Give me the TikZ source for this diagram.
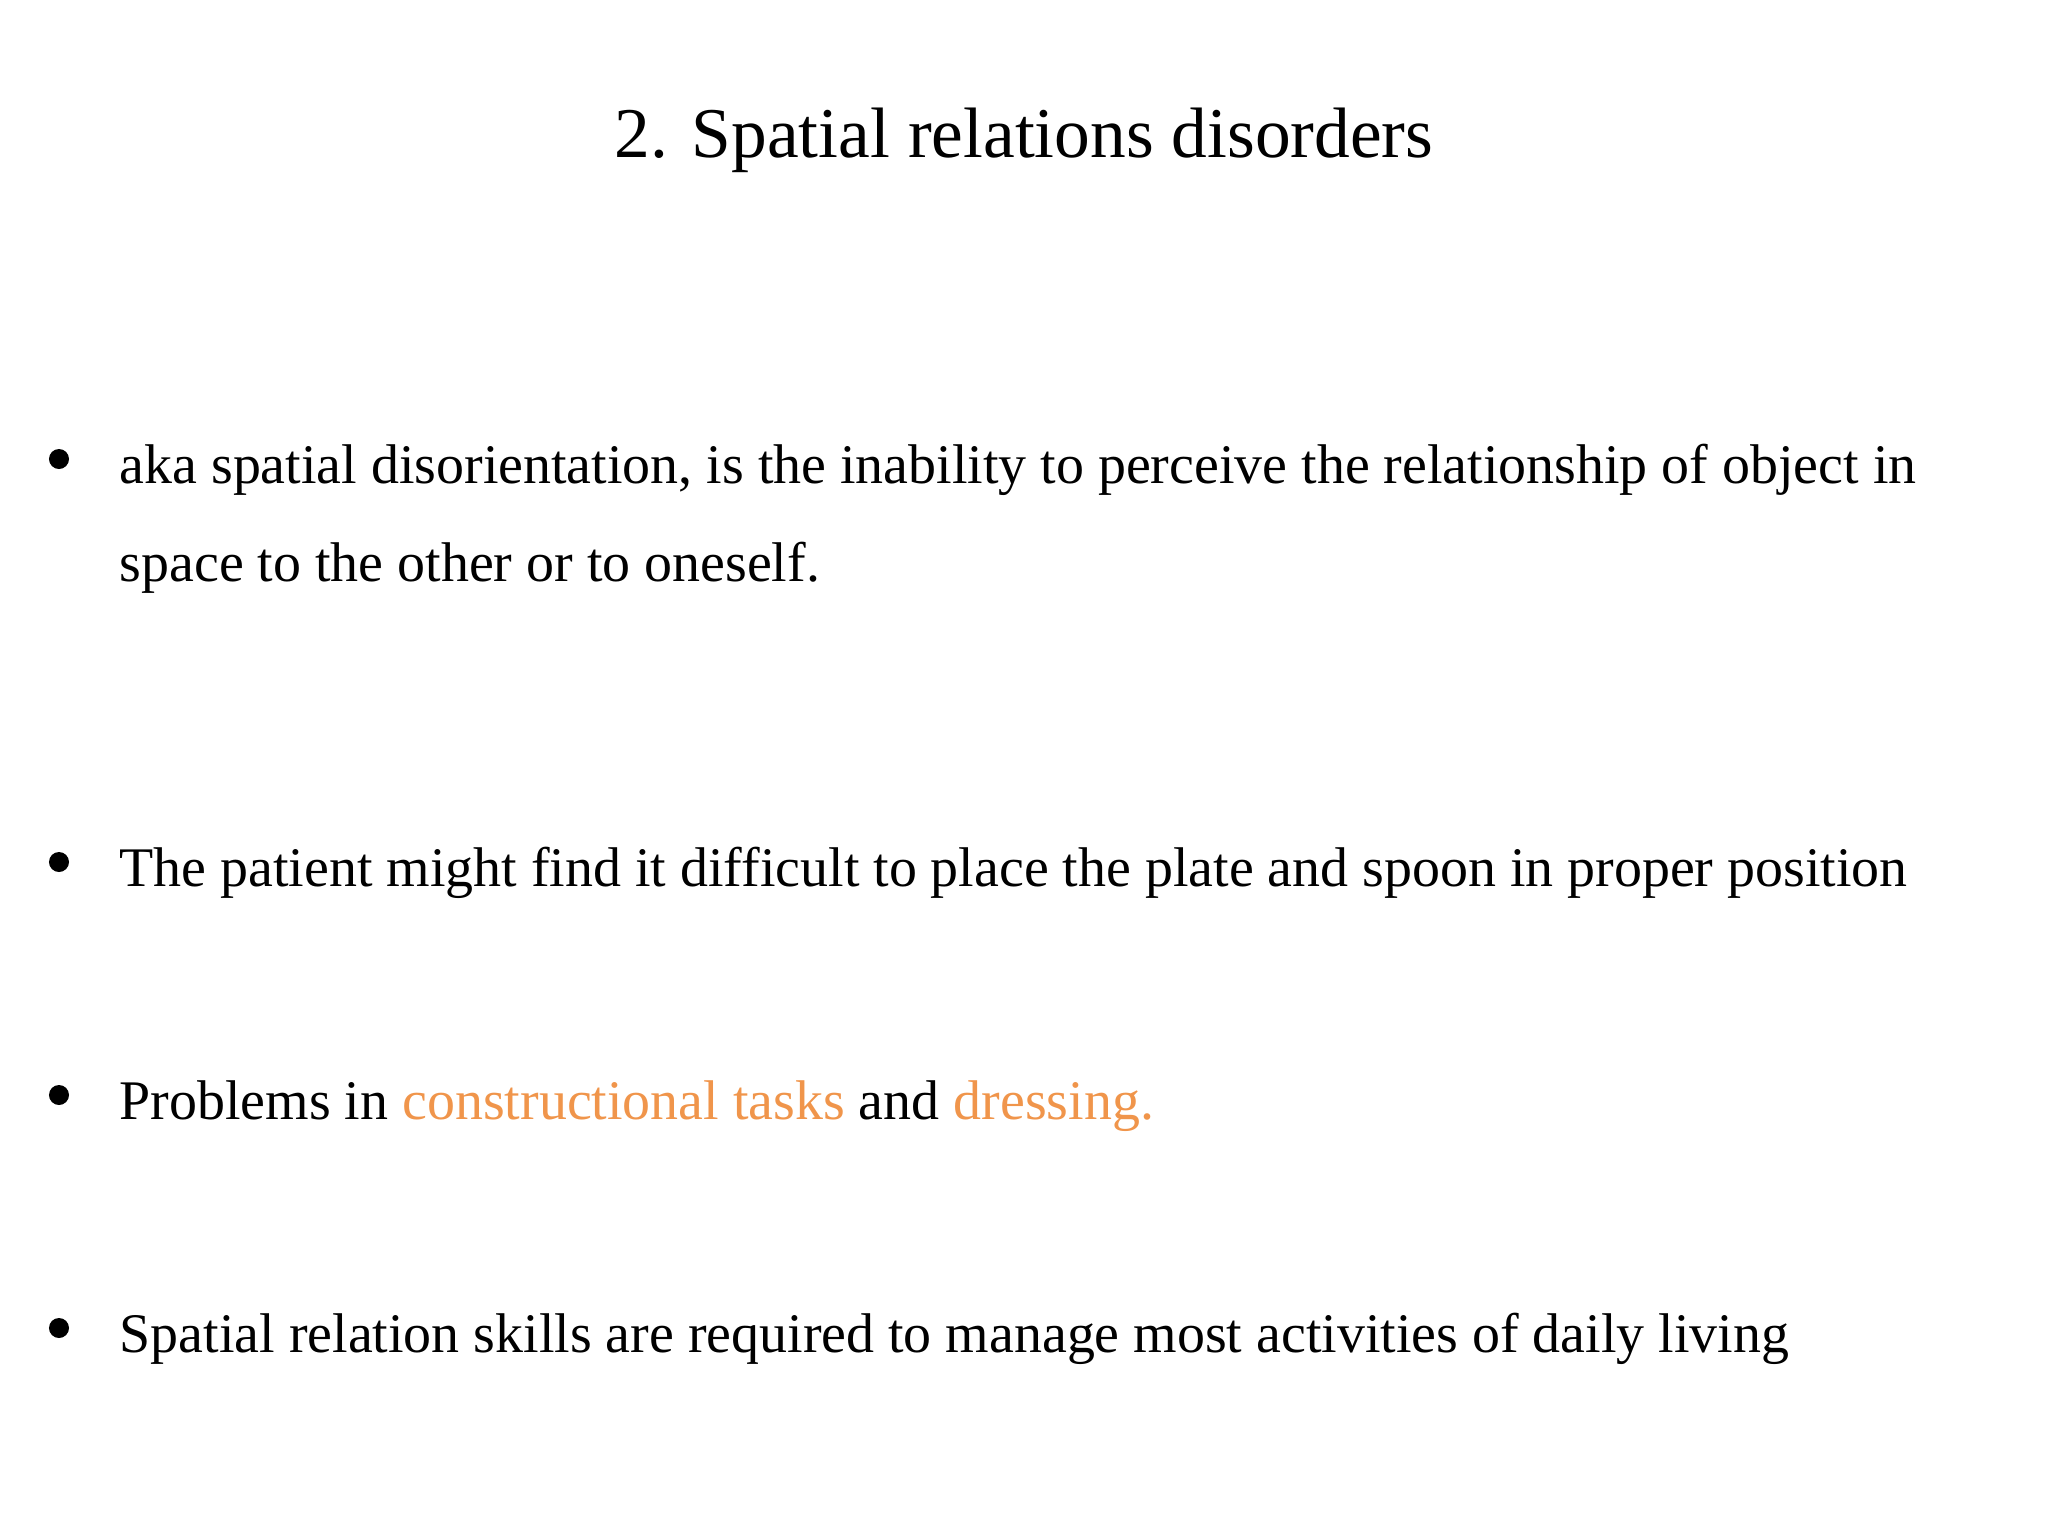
\documentclass[tikz,border=0pt]{standalone}
\usepackage{fontspec}
\setmainfont{Liberation Serif}
\definecolor{accent}{HTML}{F0954B}
\begin{document}
\begin{tikzpicture}[x=0.01cm,y=-0.01cm,
  body/.style={anchor=base west,inner sep=0pt,font=\fontsize{15.9pt}{19pt}\selectfont},
  dot/.style={circle,fill=black,inner sep=0pt,minimum size=0.2cm}]
\useasboundingbox (0,0) rectangle (2048,1536);
\node[anchor=base,inner sep=0pt,font=\fontsize{20.3pt}{24pt}\selectfont] (title) at (1024,157) {2. Spatial relations disorders};
\node[dot] (b1) at (59,459) {};
\node[body] (t1a) at (119,483) {aka spatial disorientation, is the inability to perceive the relationship of object in};
\node[body] (t1b) at (119,581) {space to the other or to oneself.};
\node[dot] (b2) at (59,862) {};
\node[body] (t2) at (119,886) {The patient might find it difficult to place the plate and spoon in proper position};
\node[dot] (b3) at (59,1095) {};
\node[body] (t3) at (119,1119) {Problems in \textcolor{accent}{constructional tasks} and \textcolor{accent}{dressing.}};
\node[dot] (b4) at (59,1328) {};
\node[body] (t4) at (119,1352) {Spatial relation skills are required to manage most activities of daily living};
\end{tikzpicture}
\end{document}
